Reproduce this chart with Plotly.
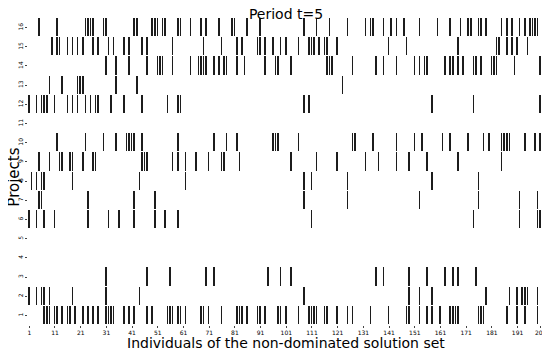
import plotly.graph_objects as go

# individuals (1..200) that select each project
proj_16 = [5, 12, 23, 24, 25, 26, 30, 31, 42, 43, 49, 50, 51, 53, 54, 59, 60, 64, 68, 70, 75,
           80, 81, 86, 91, 108, 113, 118, 125, 132, 134, 135, 139, 142, 144, 147, 153, 160,
           165, 169, 172, 173, 176, 177, 179, 185, 187, 189, 192, 194, 196, 197, 198, 199]
proj_15 = [10, 12, 13, 16, 18, 20, 22, 26, 28, 32, 34, 38, 40, 45, 47, 57, 69, 76, 82, 84,
           90, 91, 93, 96, 99, 101, 106, 110, 111, 112, 114, 116, 117, 121, 141, 148, 168,
           183, 184, 187, 189, 191, 195]
proj_14 = [31, 35, 40, 47, 51, 52, 53, 57, 64, 67, 68, 69, 70, 73, 75, 77, 78, 82, 85, 93,
           97, 98, 103, 117, 118, 119, 127, 136, 139, 144, 151, 153, 155, 156, 163, 165, 166,
           168, 170, 174, 175, 177, 181, 182, 183, 190, 200]
proj_13 = [9, 14, 20, 21, 22, 35, 43, 123]
proj_12 = [1, 4, 6, 7, 8, 11, 16, 18, 20, 23, 25, 27, 28, 33, 38, 45, 55, 59, 60, 108, 110,
           158, 174, 200]
proj_11 = []
proj_10 = [12, 23, 30, 35, 39, 40, 41, 42, 45, 59, 73, 78, 82, 96, 97, 98, 106, 127, 128,
           135, 144, 151, 154, 162, 165, 172, 178, 180, 185, 186, 187, 188, 194, 198, 200]
proj_9 = [5, 9, 13, 14, 17, 18, 22, 26, 27, 45, 46, 47, 57, 59, 62, 66, 71, 76, 77, 83, 103,
          113, 121, 132, 137, 144, 149, 156, 168, 185]
proj_8 = [2, 4, 6, 7, 18, 44, 62, 108, 111, 125, 158, 176]
proj_7 = [5, 6, 24, 42, 50, 108, 125, 153, 176, 192, 199]
proj_6 = [1, 4, 7, 11, 24, 32, 36, 42, 50, 54, 59, 111, 174, 192, 199, 200]
proj_5 = []
proj_4 = []
proj_3 = [31, 47, 56, 70, 73, 94, 99, 103, 136, 139, 149, 156, 163, 166, 168, 175]
proj_2 = [1, 4, 6, 7, 9, 18, 31, 44, 108, 149, 153, 158, 179, 188, 191, 193, 194, 195, 199]
proj_1 = [7, 8, 9, 11, 12, 14, 16, 17, 19, 22, 24, 26, 28, 31, 32, 33, 34, 38, 40, 42, 47,
          49, 55, 56, 57, 59, 60, 62, 68, 69, 71, 76, 82, 83, 84, 86, 90, 91, 93, 98, 99, 101,
          106, 110, 111, 112, 113, 116, 117, 121, 125, 127, 134, 141, 148, 149, 153, 156,
          158, 161, 165, 166, 167, 168, 176, 177, 178, 187, 191, 194, 199]

projects = list(range(1, 17))
individuals = list(range(1, 201))
x_ticks = [1, 11, 21, 31, 41, 51, 61, 71, 81, 91, 101, 111, 121, 131, 141, 151, 161, 171,
           181, 191, 200]

selected = [proj_1, proj_2, proj_3, proj_4, proj_5, proj_6, proj_7, proj_8, proj_9,
            proj_10, proj_11, proj_12, proj_13, proj_14, proj_15, proj_16]

z = []
for sel in selected:
    s = set(sel)
    z.append([1 if i in s else 0 for i in individuals])

fig = go.Figure(go.Heatmap(
    z=z, x=individuals, y=projects,
    colorscale=[[0, "white"], [1, "#1c1c1c"]],
    showscale=False, xgap=1, ygap=1, zmin=0, zmax=1,
    hoverinfo="skip",
))

# the page puts the figure 8px in from the top-left corner, so it is 8px smaller
fig.update_layout(
    width=542, height=344,
    margin=dict(l=20, r=8, t=10, b=27),
    paper_bgcolor="white", plot_bgcolor="white",
    font=dict(family="DejaVu Sans, sans-serif", color="black"),
    title=dict(text="Period t=5", x=0.502, xref="paper", xanchor="center",
               y=0.981, yref="container", yanchor="middle", font=dict(size=14)),
)

fig.add_annotation(text="Individuals of the non-dominated solution set", xref="paper",
                   yref="paper", x=0.501, y=0, yanchor="middle", yshift=-18,
                   showarrow=False, font=dict(size=14))
fig.add_annotation(text="Projects", xref="paper", yref="paper", x=0, y=0.48,
                   xanchor="center", xshift=-14, textangle=-90, showarrow=False,
                   font=dict(size=15))

fig.update_xaxes(
    tickvals=x_ticks, ticktext=[str(t) for t in x_ticks], automargin=False,
    tickfont=dict(size=6, color="black"), ticks="outside", ticklen=2, tickcolor="#444",
    showgrid=False, zeroline=False, showline=False,
)
fig.update_yaxes(
    tickvals=projects, ticktext=[str(p) for p in projects], tickangle=-90, automargin=False,
    tickfont=dict(size=6, color="black"), ticks="outside", ticklen=2, tickcolor="#444",
    showgrid=False, zeroline=False, showline=False,
)

fig.write_html("out.html")
